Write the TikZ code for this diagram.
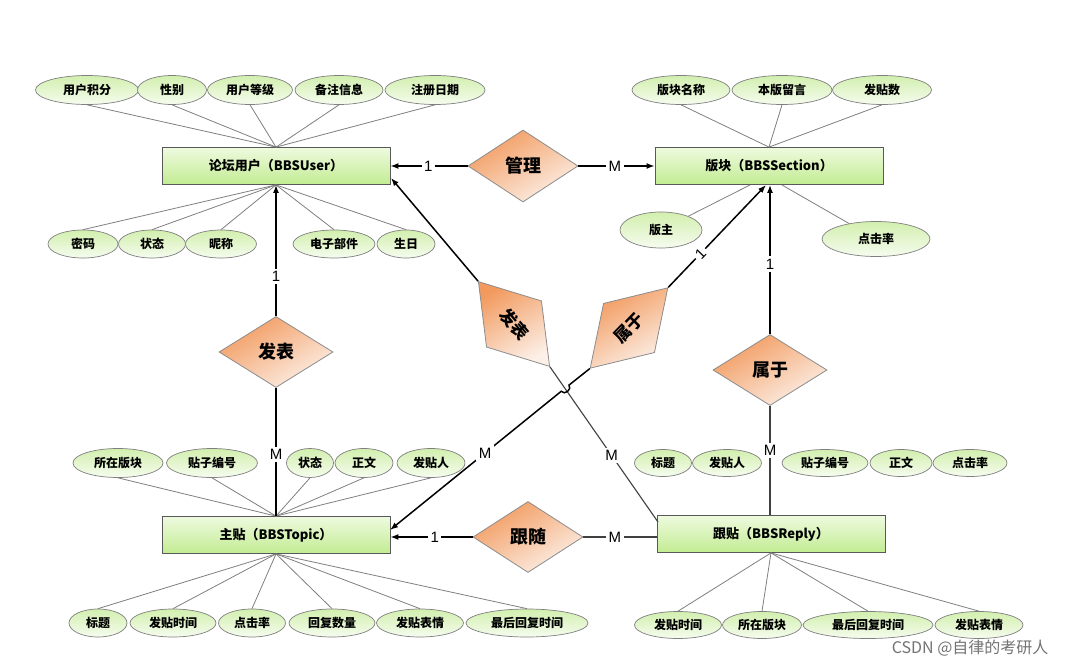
\documentclass[tikz,border=0pt]{standalone}
\usepackage{fontspec}
\newfontfamily\cjk{Noto Sans CJK SC}
\newfontfamily\lat{Liberation Sans}
\usetikzlibrary{shapes.geometric,arrows.meta,calc}
\definecolor{entT}{HTML}{EEFADF}
\definecolor{entB}{HTML}{C2EC92}
\definecolor{attT}{HTML}{D2EFAE}
\definecolor{attB}{HTML}{F6FCEF}
\definecolor{relT}{HTML}{F29A5E}
\definecolor{relB}{HTML}{FCF0E8}
\begin{document}
\begin{tikzpicture}[x=1pt,y=-1pt,
  ent/.style={draw=black!65, line width=0.8pt, top color=entT, bottom color=entB, minimum width=228pt, minimum height=37pt, inner sep=0pt, font=\cjk\bfseries\fontsize{13}{15}\selectfont},
  attr/.style={ellipse, draw=black!50, line width=0.7pt, top color=attT, bottom color=attB, inner sep=0pt, minimum height=29pt, font=\cjk\bfseries\fontsize{12}{14}\selectfont},
  rel/.style={diamond, draw=black!45, line width=0.8pt, top color=relT, bottom color=relB, shading angle=30, inner sep=0pt, font=\cjk\bfseries\fontsize{18}{20}\selectfont},
  al/.style={draw=black!50, line width=0.8pt},
  rl/.style={draw=black, line width=1.5pt},
  rlt/.style={draw=black!75, line width=1.1pt},
  arr/.style={-{Latex[length=8pt,width=6pt]}},
  card/.style={fill=white, inner sep=2.5pt, font=\lat\fontsize{15}{15}\selectfont},
]
\path[fill=white, use as bounding box] (0,0) rectangle (1067,668);

% entities
\node[ent] (user) at (276,166) {论坛用户（BBSUser）};
\node[ent] (section) at (769,166) {版块（BBSSection）};
\node[ent] (topic) at (276,535) {主贴（BBSTopic）};
\node[ent] (reply) at (771,534) {跟贴（BBSReply）};

% relationships
\node[rel, minimum width=110pt, minimum height=72pt] (guanli) at (523,166) {管理};
\node[rel, minimum width=114pt, minimum height=71pt] (fb1) at (276,352) {发表};
\node[rel, minimum width=110pt, minimum height=71pt] (gs) at (528,537) {跟随};
\node[rel, minimum width=114pt, minimum height=71pt] (sy1) at (770,370) {属于};
\node[rel, minimum width=111pt, minimum height=72pt, rotate=-50, font=\cjk\bfseries\fontsize{17}{19}\selectfont] (fb2) at (514,324) {发表};
\node[rel, minimum width=112pt, minimum height=71pt, rotate=46, font=\cjk\bfseries\fontsize{17}{19}\selectfont] (sy2) at (629,328) {属于};

% user attributes
\node[attr, minimum width=103pt] (u1) at (87,90) {用户积分};
\node[attr, minimum width=69pt] (u2) at (172,90) {性别};
\node[attr, minimum width=85pt] (u3) at (250,90) {用户等级};
\node[attr, minimum width=88pt] (u4) at (339,90) {备注信息};
\node[attr, minimum width=100pt] (u5) at (435,90) {注册日期};
\node[attr, minimum width=70pt, minimum height=28pt] (b1) at (83,244) {密码};
\node[attr, minimum width=67pt, minimum height=28pt] (b2) at (152,244) {状态};
\node[attr, minimum width=71pt, minimum height=28pt] (b3) at (221,244) {昵称};
\node[attr, minimum width=82pt, minimum height=28pt] (b4) at (334,244) {电子部件};
\node[attr, minimum width=58pt, minimum height=28pt] (b5) at (406,244) {生日};

% section attributes
\node[attr, minimum width=98pt] (s1) at (681,90) {版块名称};
\node[attr, minimum width=100pt] (s2) at (782,90) {本版留言};
\node[attr, minimum width=99pt] (s3) at (882,90) {发贴数};
\node[attr, minimum width=82pt, minimum height=36pt] (sz) at (661,230) {版主};
\node[attr, minimum width=108pt, minimum height=35pt] (sd) at (876,239) {点击率};

% topic attributes
\node[attr, minimum width=90pt] (t1) at (118,463) {所在版块};
\node[attr, minimum width=91pt] (t2) at (212,463) {贴子编号};
\node[attr, minimum width=47pt] (t3) at (310,463) {状态};
\node[attr, minimum width=58pt] (t4) at (364,463) {正文};
\node[attr, minimum width=68pt] (t5) at (431,463) {发贴人};
\node[attr, minimum width=58pt, minimum height=28pt] (d1) at (98,623) {标题};
\node[attr, minimum width=86pt, minimum height=28pt] (d2) at (173,623) {发贴时间};
\node[attr, minimum width=67pt, minimum height=28pt] (d3) at (252,623) {点击率};
\node[attr, minimum width=86pt, minimum height=28pt] (d4) at (332,623) {回复数量};
\node[attr, minimum width=87pt, minimum height=28pt] (d5) at (420,623) {发贴表情};
\node[attr, minimum width=122pt, minimum height=28pt] (d6) at (527,623) {最后回复时间};

% reply attributes
\node[attr, minimum width=57pt, minimum height=27pt] (r1) at (663,463) {标题};
\node[attr, minimum width=69pt, minimum height=27pt] (r2) at (727,463) {发贴人};
\node[attr, minimum width=86pt, minimum height=27pt] (r3) at (825,463) {贴子编号};
\node[attr, minimum width=62pt, minimum height=27pt] (r4) at (901,463) {正文};
\node[attr, minimum width=74pt, minimum height=27pt] (r5) at (970,463) {点击率};
\node[attr, minimum width=87pt, minimum height=27pt] (e1) at (678,625) {发贴时间};
\node[attr, minimum width=79pt, minimum height=27pt] (e2) at (762,625) {所在版块};
\node[attr, minimum width=130pt, minimum height=27pt] (e3) at (868,625) {最后回复时间};
\node[attr, minimum width=88pt, minimum height=27pt] (e4) at (979,625) {发贴表情};

% helper coordinates
\coordinate (userSE) at (391,178);
\coordinate (secS) at (766,185);
\coordinate (secB1) at (750,185);
\coordinate (secB2) at (782,185);
\coordinate (topE) at (390,530);
\coordinate (repW) at (658,522);
\coordinate (hopA) at (569.0,385.1);
\coordinate (hopB) at (561.2,391.3);

% attribute lines
\foreach \n in {u1,u2,u3,u4,u5} \draw[al] (\n.south) -- (user.north);
\foreach \n in {b1,b2,b3,b4,b5} \draw[al] (\n.north) -- (user.south);
\foreach \n in {s1,s2,s3} \draw[al] (\n.south) -- (section.north);
\draw[al] (sz) -- (secB1);
\draw[al] (sd) -- (secB2);
\foreach \n in {t1,t2,t3,t4,t5} \draw[al] (\n.south) -- (topic.north);
\foreach \n in {d1,d2,d3,d4,d5,d6} \draw[al] (\n.north) -- (topic.south);
\foreach \n in {e1,e2,e3,e4} \draw[al] (\n.north) -- (reply.south);

% relationship connectors
\draw[rl,arr] (guanli.west) -- (user.east) node[card,pos=0.51]{1};
\draw[rl,arr] (guanli.east) -- (section.west) node[card,pos=0.48]{M};
\draw[rl,arr] (fb1.north) -- (user.south) node[card,pos=0.3]{1};
\draw[rl] (fb1.south) -- (topic.north) node[card,pos=0.52]{M};
\draw[rl,arr] (gs.west) -- (gs.west -| topic.east) node[card,pos=0.46]{1};
\draw[rlt] (gs.east) -- (gs.east -| reply.west) node[card,pos=0.43]{M};
\draw[rl,arr] (sy1.north) -- (sy1.north |- section.south) node[card,pos=0.47]{1};
\draw[rlt] (sy1.south) -- (sy1.south |- reply.north) node[card,pos=0.41]{M};
\draw[rl,arr] (fb2.west) -- (userSE);
\draw[rlt] (fb2.east) -- (repW) node[card,pos=0.57]{M};
\draw[rl,arr] (sy2.east) -- (secS) node[card,pos=0.33,rotate=46]{1};
\draw[rl,arr] (sy2.west) -- (hopA) to[bend left=90, looseness=1.4] (hopB) -- (topE) node[card,pos=0.445]{M};

% watermark
\node[anchor=east, text=black!55, font=\cjk\fontsize{16}{16}\selectfont] (wm) at (1052,648) {CSDN @自律的考研人};
\end{tikzpicture}
\end{document}
